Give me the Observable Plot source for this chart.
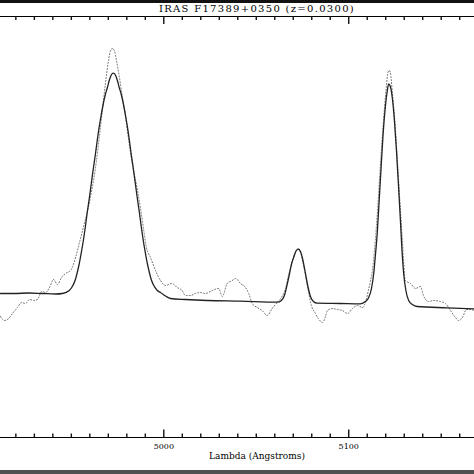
<!DOCTYPE html>
<html>
<head>
<meta charset="utf-8">
<script src="https://cdn.jsdelivr.net/npm/d3@7"></script>
<script src="https://cdn.jsdelivr.net/npm/@observablehq/plot@0.6"></script>
<style>
  html, body { margin: 0; padding: 0; background: #fff; }
  #wrap { position: relative; width: 474px; height: 474px; overflow: hidden; background: #fff; }
  #wrap svg { position: absolute; left: 0; top: 0; }
  #topband { position: absolute; left: 0; top: 0; width: 474px; height: 3px; background: #111; }
  #botband { position: absolute; left: 0; top: 470px; width: 474px; height: 4px; background: #505050; }
  #title { position: absolute; left: 40px; top: 3px; width: 434px; text-align: center;
           font-family: "DejaVu Serif", serif; font-size: 10px; line-height: 11px; letter-spacing: 1.3px; color: #000; }
  #xlabel { position: absolute; left: 40px; top: 451px; width: 434px; text-align: center;
            font-family: "DejaVu Serif", serif; font-size: 9px; line-height: 11px; color: #000; }
</style>
</head>
<body>
<div id="wrap">
  <div id="topband"></div>
  <div id="title"></div>
  <div id="xlabel"></div>
  <div id="botband"></div>
</div>
<script>
const titleText = "IRAS F17389+0350 (z=0.0300)";
const xLabelText = "Lambda (Angstroms)";

const xDomain = [4911.7, 5168.0];
const yDomain = [0, 4.21];

const majorTicks = [5000, 5100];
const majorTickLabels = ["5000", "5100"];
const minorTicks = [4920, 4930, 4940, 4950, 4960, 4970, 4980, 4990,
                    5010, 5020, 5030, 5040, 5050, 5060, 5070, 5080, 5090,
                    5110, 5120, 5130, 5140, 5150, 5160];

// Fitted model (solid line)
const modelLambda = [4911.7, 4919.3, 4926.9, 4934.4, 4941.5, 4945.2,
  4948.9, 4951.1, 4952.2, 4953.2, 4954.3, 4955.4, 4956.5, 4957.6, 4958.6, 4959.7,
  4960.8, 4961.9, 4963.0, 4964.0, 4965.1, 4966.2, 4967.3, 4968.4, 4969.5, 4970.5,
  4971.6, 4972.7, 4973.8, 4974.9, 4975.9, 4977.0, 4978.1, 4979.2, 4980.3, 4981.4,
  4982.4, 4983.5, 4984.6, 4985.7, 4986.8, 4987.8, 4988.9, 4990.0, 4991.1, 4992.2,
  4993.2, 4994.3, 4996.5, 4998.2,
  5000.9, 5003.6, 5011.7, 5023.5, 5041.5, 5061.3, 5063.6, 5065.2, 5066.7, 5068.0,
  5069.0, 5070.3, 5071.5, 5072.7, 5073.9, 5075.0, 5076.3, 5077.7, 5079.3, 5080.9,
  5082.9, 5095.5, 5106.3, 5109.0, 5110.8, 5112.3, 5113.5, 5114.4, 5115.4, 5116.3,
  5117.4, 5118.5, 5119.6, 5120.7, 5121.6, 5122.5, 5123.6, 5124.7, 5125.8, 5126.9,
  5128.0, 5128.8, 5129.7, 5130.9, 5132.4, 5134.4, 5137.0, 5153.2, 5168.0];
const modelFlux = [1.44, 1.44, 1.445, 1.44, 1.435, 1.44,
  1.47, 1.53, 1.58, 1.65, 1.74, 1.85, 1.97, 2.11, 2.25, 2.39,
  2.54, 2.69, 2.83, 2.97, 3.11, 3.23, 3.34, 3.43, 3.50, 3.57,
  3.625, 3.643, 3.625, 3.57, 3.50, 3.43, 3.34, 3.23, 3.11, 2.97,
  2.83, 2.69, 2.54, 2.39, 2.25, 2.11, 1.97, 1.85, 1.74, 1.65,
  1.58, 1.53, 1.47, 1.45,
  1.415, 1.39, 1.38, 1.37, 1.363, 1.353, 1.37, 1.42, 1.53, 1.64,
  1.73, 1.805, 1.865, 1.887, 1.86, 1.79, 1.67, 1.53, 1.41, 1.36,
  1.343, 1.34, 1.337, 1.36, 1.40, 1.49, 1.64, 1.82, 2.04, 2.32,
  2.67, 3.01, 3.27, 3.45, 3.535, 3.51, 3.39, 3.17, 2.87, 2.52,
  2.15, 1.87, 1.64, 1.47, 1.37, 1.33, 1.31, 1.297, 1.287];

// Observed spectrum (dotted line)
const obsLambda = [4911.7, 4913.9, 4916.1, 4918.2, 4920.9, 4923.1, 4925.2, 4927.4, 4929.6, 4931.7,
  4933.9, 4936.1, 4938.2, 4940.4, 4942.5, 4944.7, 4946.9, 4949.6, 4952.3, 4954.4,
  4956.6, 4958.8, 4960.4, 4962.0, 4963.6, 4965.2, 4966.9, 4968.5, 4970.1, 4971.2,
  4972.3, 4973.4, 4974.4, 4976.1, 4977.7, 4979.3, 4980.9, 4982.5, 4984.2, 4985.8,
  4987.4, 4989.0, 4990.6, 4992.8, 4995.5, 4998.2, 5000.9, 5004.5, 5007.2, 5009.9,
  5011.7, 5014.4, 5017.1, 5019.8, 5022.5, 5026.2, 5029.7, 5031.6, 5034.3, 5037.0,
  5038.8, 5041.5, 5044.2, 5045.9, 5047.8, 5050.5, 5053.2, 5055.9, 5058.6, 5061.3,
  5063.6, 5065.8, 5067.4, 5069.0, 5070.6, 5072.3, 5073.9, 5075.5, 5077.1, 5078.4,
  5079.8, 5082.0, 5083.6, 5085.8, 5087.4, 5088.5, 5091.2, 5093.9, 5096.6, 5099.3,
  5102.0, 5104.7, 5107.4, 5109.6, 5110.6, 5111.7, 5112.8, 5113.9, 5115.0, 5116.1,
  5117.1, 5118.2, 5119.3, 5120.4, 5121.2, 5122.0, 5122.8, 5123.6, 5124.7, 5125.8,
  5126.9, 5128.0, 5129.0, 5129.8, 5130.6, 5133.4, 5136.1, 5138.8, 5140.4, 5143.1,
  5145.8, 5149.6, 5152.3, 5155.0, 5157.7, 5159.3, 5161.5, 5163.6, 5165.8, 5168.0];
const obsFlux = [1.21, 1.17, 1.19, 1.24, 1.30, 1.35, 1.34, 1.38, 1.37, 1.38,
  1.46, 1.45, 1.50, 1.58, 1.53, 1.60, 1.64, 1.67, 1.80, 1.95,
  2.11, 2.27, 2.41, 2.57, 2.77, 3.02, 3.29, 3.55, 3.77, 3.87,
  3.89, 3.86, 3.77, 3.59, 3.39, 3.21, 2.99, 2.79, 2.62, 2.47,
  2.29, 2.09, 1.90, 1.80, 1.67, 1.57, 1.52, 1.54, 1.50, 1.47,
  1.42, 1.42, 1.44, 1.45, 1.44, 1.47, 1.49, 1.41, 1.54, 1.57,
  1.59, 1.54, 1.50, 1.44, 1.34, 1.30, 1.27, 1.22, 1.29, 1.35,
  1.40, 1.49, 1.62, 1.73, 1.83, 1.88, 1.85, 1.73, 1.57, 1.44,
  1.32, 1.24, 1.19, 1.15, 1.21, 1.27, 1.29, 1.28, 1.27, 1.24,
  1.29, 1.32, 1.30, 1.39, 1.47, 1.56, 1.67, 1.87, 2.12, 2.42,
  2.72, 3.02, 3.29, 3.52, 3.65, 3.67, 3.61, 3.45, 3.22, 2.92,
  2.59, 2.25, 1.97, 1.72, 1.57, 1.54, 1.49, 1.51, 1.42, 1.36,
  1.37, 1.36, 1.34, 1.27, 1.20, 1.17, 1.20, 1.28, 1.28, 1.27];

const model = modelLambda.map((l, i) => ({lambda: l, flux: modelFlux[i]}));
const obs = obsLambda.map((l, i) => ({lambda: l, flux: obsFlux[i]}));

document.getElementById("title").textContent = titleText;
document.getElementById("xlabel").textContent = xLabelText;

const W = 474, H = 474, MT = 16, MB = 37;
const frameH = H - MT - MB;
const tickMark = (ticks, len, atBottom) =>
  Plot.ruleX(ticks, {x: d => d, stroke: "#111", strokeWidth: 1.4,
    ...(atBottom ? {insetTop: frameH - len} : {insetBottom: frameH - len})});

const chart = Plot.plot({
  width: W,
  height: H,
  marginTop: MT,
  marginBottom: MB,
  marginLeft: 0,
  marginRight: 0,
  style: {fontFamily: "DejaVu Serif, serif", fontSize: "8px", color: "#000", background: "transparent", overflow: "visible"},
  x: {domain: xDomain, axis: null},
  y: {domain: yDomain, axis: null},
  marks: [
    Plot.ruleY(yDomain, {stroke: "#000", strokeWidth: 1}),
    tickMark(minorTicks, 3.5, true),
    tickMark(majorTicks, 7.5, true),
    tickMark(minorTicks, 4, false),
    tickMark(majorTicks, 8, false),
    Plot.axisX(majorTicks, {anchor: "bottom", tickSize: 0, tickPadding: 6,
      tickFormat: d => majorTickLabels[majorTicks.indexOf(d)], label: null, fill: "#000"}),
    Plot.line(obs, {x: "lambda", y: "flux", stroke: "#6a6a6a", strokeWidth: 1, strokeDasharray: "1,2", curve: "monotone-x"}),
    Plot.line(model, {x: "lambda", y: "flux", stroke: "#222", strokeWidth: 1.3, curve: "monotone-x"})
  ]
});
document.getElementById("wrap").insertBefore(chart, document.getElementById("topband"));
</script>
</body>
</html>
